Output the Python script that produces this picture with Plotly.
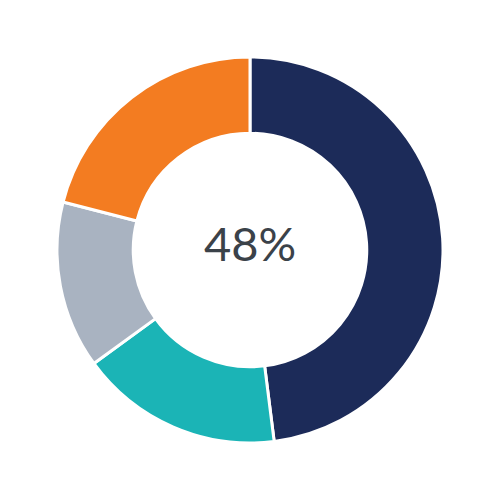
import plotly.graph_objects as go

# slice shares, clockwise from 12 o'clock
labels = ['Navy', 'Teal', 'Gray', 'Orange']
values = [48, 17, 14, 21]
colors = ['#1c2b59', '#1bb4b6', '#a9b3c1', '#f37c21']
center_text = '48%'

donut = go.Pie(
    labels=labels,
    values=values,
    hole=0.605,
    sort=False,
    direction='clockwise',
    rotation=0,
    marker=dict(colors=colors, line=dict(color='white', width=3)),
    textinfo='none',
    hoverinfo='label+percent',
    showlegend=False,
)

fig = go.Figure(data=[donut])
# page body has an 8px margin, so shift the pie up/left a bit
fig.update_layout(
    width=500,
    height=500,
    margin=dict(l=49, r=65, t=49, b=65),
    paper_bgcolor='white',
    annotations=[dict(
        text=center_text, x=0.5, y=0.517, xref='paper', yref='paper',
        showarrow=False,
        font=dict(family='Lato, Open Sans, sans-serif', size=47, color='#3b4249'),
    )],
)
fig.write_html('out.html')
